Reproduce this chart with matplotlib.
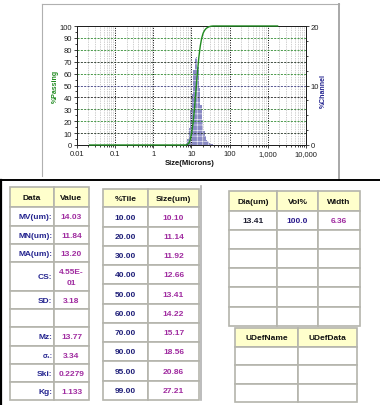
import numpy as np
import matplotlib
matplotlib.use("Agg")
import matplotlib.pyplot as plt
from matplotlib.patches import Rectangle
from matplotlib.ticker import LogLocator, MultipleLocator, NullFormatter

# данные распределения (читаем с картинки)
chan_edges = [7.13, 7.78, 8.48, 9.25, 10.09, 11.00, 12.00, 13.08, 14.27, 15.56,
              16.96, 18.50, 20.17, 22.00, 23.99, 26.16, 28.53, 31.11, 33.93, 37.00]
chan_pct = [0.4, 1.0, 2.8, 5.8, 8.5, 12.6, 14.6, 14.8, 13.1, 9.5,
            6.7, 4.2, 2.3, 1.5, 0.9, 0.6, 0.4, 0.2, 0.1]

pass_size = [0.0215, 7.13, 7.78, 8.48, 9.25, 10.09, 11.00, 12.00, 13.08, 14.27, 15.56,
             16.96, 18.50, 20.17, 22.00, 23.99, 26.16, 28.53, 31.11, 33.93, 37.00, 1800]
pass_pct = [0, 0, 0.4, 1.4, 4.2, 10.0, 18.5, 31.1, 45.7, 60.5, 73.6,
            83.1, 89.8, 94.0, 96.3, 97.8, 98.7, 99.3, 99.7, 99.9, 100, 100]

x_ticks = [0.01, 0.1, 1, 10, 100, 1000, 10000]
x_tick_labels = ["0.01", "0.1", "1", "10", "100", "1,000", "10,000"]

# таблицы
data_labels = ["MV(um):", "MN(um):", "MA(um):", "CS:", "SD:", "", "Mz:", "σ₁:", "Ski:", "Kg:"]
data_values = ["14.03", "11.84", "13.20", "4.55E-\n01", "3.18", "", "13.77", "3.34", "0.2279", "1.133"]
tile_pct = ["10.00", "20.00", "30.00", "40.00", "50.00", "60.00", "70.00", "90.00", "95.00", "99.00"]
tile_size = ["10.10", "11.14", "11.92", "12.66", "13.41", "14.22", "15.17", "18.56", "20.86", "27.21"]
peak_dia = ["13.41", "", "", "", "", ""]
peak_vol = ["100.0", "", "", "", "", ""]
peak_width = ["6.36", "", "", "", "", ""]

W, H = 380, 406
green = '#1f8a1f'
navy = '#24248f'
purple = '#a02ca0'
border = '#b4b4ac'
hdr_fill = '#ffffcc'
fam = ['Liberation Sans', 'DejaVu Sans']
plt.rcParams['font.family'] = fam
plt.rcParams['hatch.linewidth'] = 0.45


def frac(x0, y0, x1, y1):
    return [x0 / W, 1 - y1 / H, (x1 - x0) / W, (y1 - y0) / H]


fig = plt.figure(figsize=(W / 100, H / 100), dpi=100)

# график
ax = fig.add_axes(frac(77, 27, 306, 146))
ax.set_xscale('log')
ax2 = ax.twinx()
ax2.bar(chan_edges[:-1], chan_pct, width=np.diff(chan_edges), align='edge',
        color='#8a8ac4', edgecolor='#ececf6', linewidth=0, hatch='+++')
ax.plot(pass_size, pass_pct, color=green, lw=1.0, clip_on=False, zorder=5)
ax.set_zorder(ax2.get_zorder() + 1)
ax.patch.set_visible(False)

ax.set_xlim(0.01, 10000)
ax.set_ylim(0, 100)
ax2.set_ylim(0, 20)
ax.set_xticks(x_ticks)
ax.set_xticklabels(x_tick_labels)
ax.xaxis.set_minor_locator(LogLocator(base=10, subs=range(2, 10), numticks=20))
ax.xaxis.set_minor_formatter(NullFormatter())
ax.set_yticks(range(0, 101, 10))
ax.yaxis.set_minor_locator(MultipleLocator(5))
ax2.set_yticks([0, 10, 20])
ax2.yaxis.set_minor_locator(MultipleLocator(2.5))

ax.grid(which='major', axis='x', color='black', ls=(0, (1, 1.5)), lw=0.7)
ax.grid(which='minor', axis='x', color='#a0a0a0', ls=(0, (1, 1.5)), lw=0.5)
ax.grid(which='major', axis='y', ls=(0, (2.5, 1.5)), lw=0.6)
grid_colors = ['none', '#203020', '#2e8b2e', '#2e7a2e', '#202020', '#3a3a80',
               '#2e8b2e', '#203020', '#2e8b2e', '#2e8b2e', 'none']
for line, c in zip(ax.get_ygridlines(), grid_colors):
    line.set_color(c)

for a in (ax, ax2):
    for s in a.spines.values():
        s.set_linewidth(0.7)
        s.set_color('#202020')
    a.tick_params(which='both', direction='out', labelsize=5.5, pad=1,
                  width=0.6, colors='#202020')
    a.tick_params(which='major', length=2.5)
    a.tick_params(which='minor', length=1.5)

# подписи и рамки
ov = fig.add_axes([0, 0, 1, 1])
ov.set_xlim(0, W)
ov.set_ylim(H, 0)
ov.axis('off')

ov.text(55, 86, "%Passing", rotation=90, ha='center', va='center',
        fontsize=5, fontweight='bold', color=green)
ov.text(323, 91, "%Channel", rotation=90, ha='center', va='center',
        fontsize=5, fontweight='bold', color=navy)
ov.text(190, 164, "Size(Microns)", ha='center', va='center',
        fontsize=5.5, fontweight='bold', color='#111111')

ov.plot([42, 339], [5, 5], color='#b0b0b0', lw=0.8)
ov.plot([42, 42], [5, 177], color='#b0b0b0', lw=0.8)
ov.plot([339, 339], [5, 181], color='#a8a8a8', lw=1.4)
ov.plot([0, W], [181, 181], color='black', lw=1.4)
ov.plot([1, 1], [181, H], color='black', lw=1.6)
ov.plot([201, 201], [187, 401], color='#b0b0b0', lw=1.2)


def draw_table(xe, ye, header, cols, colors, aligns):
    for r in range(len(ye) - 1):
        for c in range(len(xe) - 1):
            fc = hdr_fill if r == 0 else 'white'
            ov.add_patch(Rectangle((xe[c], ye[r]), xe[c + 1] - xe[c], ye[r + 1] - ye[r],
                                   facecolor=fc, edgecolor=border, lw=1.2))
    for c, h in enumerate(header):
        ov.text((xe[c] + xe[c + 1]) / 2, (ye[0] + ye[1]) / 2 + 0.5, h, ha='center',
                va='center', fontsize=6, fontweight='bold', color='#111111')
    for c, vals in enumerate(cols):
        for r, v in enumerate(vals):
            if not v:
                continue
            y = (ye[r + 1] + ye[r + 2]) / 2 + 0.5
            if aligns[c] == 'right':
                x, ha = xe[c + 1] - 1.5, 'right'
            else:
                x, ha = (xe[c] + xe[c + 1]) / 2, 'center'
            fs = 5 if v.startswith('σ') else 6
            ov.text(x, y, v, ha=ha, va='center', fontsize=fs, fontweight='bold',
                    color=colors[c], linespacing=1.75)


draw_table([10, 54, 89], [188, 208, 227, 245, 263, 292, 310, 328, 347, 365, 383, 401],
           ["Data", "Value"], [data_labels, data_values], [navy, purple], ['right', 'center'])
draw_table([103, 148, 199], [190, 208, 228, 247, 266, 285, 305, 324, 343, 362, 382, 401],
           ["%Tile", "Size(um)"], [tile_pct, tile_size], ['#1e1e78', purple], ['center', 'center'])
draw_table([229, 277, 318, 360], [192, 212, 231, 250, 269, 288, 308, 327],
           ["Dia(um)", "Vol%", "Width"], [peak_dia, peak_vol, peak_width],
           ['#1e1e30', '#2a1a8c', purple], ['center', 'center', 'center'])
draw_table([235, 298, 357], [329, 348, 366, 385, 403],
           ["UDefName", "UDefData"], [[], []], ['black', 'black'], ['center', 'center'])

fig.savefig("out.png", dpi=100)
